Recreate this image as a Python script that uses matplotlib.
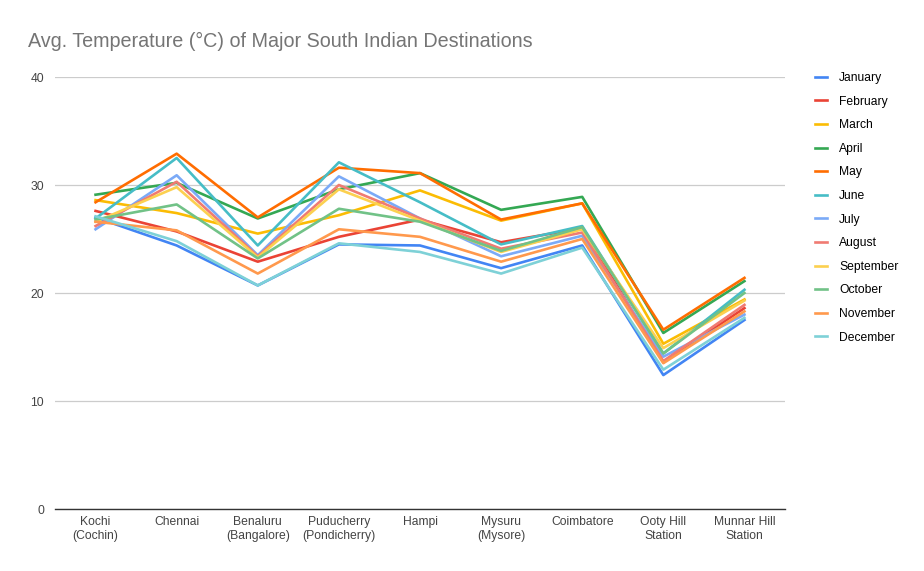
import matplotlib.pyplot as plt

plt.rcParams['font.family'] = ['Liberation Sans', 'DejaVu Sans']

# ---- data ----
places = ["Kochi\n(Cochin)", "Chennai", "Benaluru\n(Bangalore)", "Puducherry\n(Pondicherry)",
          "Hampi", "Mysuru\n(Mysore)", "Coimbatore", "Ooty Hill\nStation", "Munnar Hill\nStation"]

months = ["January", "February", "March", "April", "May", "June",
          "July", "August", "September", "October", "November", "December"]

january   = [27.0, 24.4, 20.7, 24.5, 24.4, 22.3, 24.4, 12.4, 17.5]
february  = [27.6, 25.7, 22.9, 25.2, 26.8, 24.7, 26.0, 13.6, 18.6]
march     = [28.6, 27.4, 25.5, 27.2, 29.5, 26.7, 28.3, 15.3, 19.4]
april     = [29.1, 30.2, 26.9, 29.6, 31.1, 27.7, 28.9, 16.3, 21.1]
may       = [28.4, 32.9, 27.0, 31.6, 31.1, 26.8, 28.3, 16.6, 21.4]
june      = [26.9, 32.5, 24.4, 32.1, 28.4, 24.5, 26.2, 14.4, 20.3]
july      = [25.9, 30.9, 23.5, 30.8, 26.9, 23.4, 25.3, 14.1, 18.0]
august    = [26.2, 30.3, 23.4, 30.0, 26.9, 24.1, 25.6, 13.7, 18.9]
september = [26.6, 29.8, 23.3, 29.6, 26.7, 23.8, 25.9, 14.9, 19.3]
october   = [26.8, 28.2, 23.2, 27.8, 26.6, 23.9, 26.1, 14.4, 20.0]
november  = [26.6, 25.8, 21.8, 25.9, 25.2, 22.9, 25.0, 13.5, 18.3]
december  = [27.1, 24.8, 20.7, 24.6, 23.8, 21.8, 24.2, 12.9, 17.7]

series = [january, february, march, april, may, june,
          july, august, september, october, november, december]

colors = ["#4285F4", "#EA4335", "#FBBC04", "#34A853", "#FF6D01", "#46BDC6",
          "#7BAAF7", "#F07B72", "#FCD04F", "#71C287", "#FF994D", "#7ED1D7"]

# ---- figure ----
W, H = 924, 571
fig = plt.figure(figsize=(W / 100, H / 100), dpi=100)
fig.patch.set_facecolor("white")
ax = fig.add_axes([55 / W, 1 - 509 / H, (785 - 55) / W, (509 - 77) / H])

x = list(range(len(places)))
for vals, name, c in zip(series, months, colors):
    ax.plot(x, vals, color=c, linewidth=1.9, label=name)

ax.set_xlim(-0.5, len(places) - 0.5)
ax.set_ylim(0, 40)
ax.set_yticks([0, 10, 20, 30, 40])
ax.set_xticks(x)
ax.set_xticklabels(places, fontsize=8.7, color="#444444", linespacing=1.25)
ax.tick_params(axis="y", labelsize=8.7, labelcolor="#444444", length=0, pad=8)
ax.tick_params(axis="x", length=0, pad=5)
ax.grid(axis="y", color="#cccccc", linewidth=0.9)
ax.set_axisbelow(True)
for sp in ["top", "right", "left"]:
    ax.spines[sp].set_visible(False)
ax.spines["bottom"].set_color("#333333")
ax.spines["bottom"].set_linewidth(1)

fig.text(28 / W, 1 - 41 / H, "Avg. Temperature (°C) of Major South Indian Destinations",
         fontsize=14.2, color="#757575", va="center", ha="left")

fig.legend(loc="upper left", bbox_to_anchor=(815 / W, 1 - 72 / H), frameon=False,
           fontsize=8.7, handlelength=1.0, handletextpad=1.0, labelspacing=0.96,
           borderaxespad=0, borderpad=0)

plt.savefig("out.png", dpi=100, facecolor="white")
